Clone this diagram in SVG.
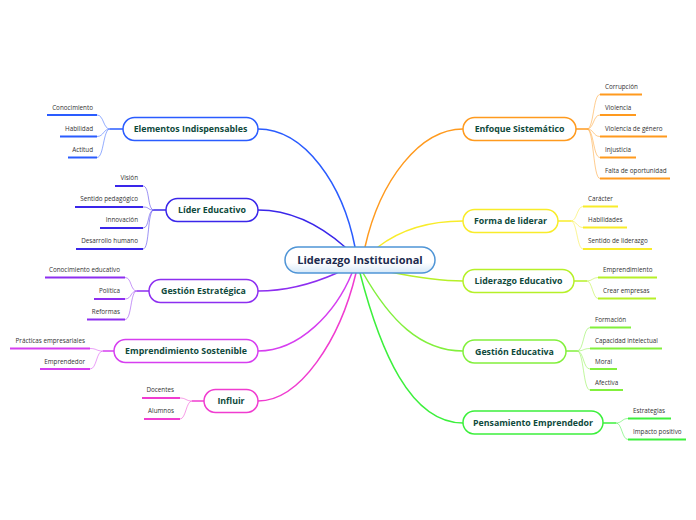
<svg xmlns="http://www.w3.org/2000/svg" width="696" height="520" viewBox="0 0 696 520">
<style>
.bg{fill:#ffffff}
.main{fill:none;stroke-width:1.5;stroke-linecap:round}
.stub{fill:none;stroke-width:1.5}
.leafc{fill:none;stroke-width:1;stroke-opacity:0.5}
.ul{fill:none;stroke-width:2}
.node{fill:#ffffff;stroke-width:1.5}
.nt{font-family:"Open Sans","Noto Sans",sans-serif;font-weight:bold;font-size:8.8px;fill:#0f4a3c;text-anchor:middle}
.lt{font-family:"Open Sans","Noto Sans",sans-serif;font-size:6.3px;fill:#333333}
.le{text-anchor:end}
.ct{font-family:"Open Sans","Noto Sans",sans-serif;font-weight:bold;font-size:11px;fill:#1b2a4e;text-anchor:middle}
.c1{stroke:#2a5cff}.c2{stroke:#3a26ea}.c3{stroke:#8d2ef0}.c4{stroke:#d63ef0}.c5{stroke:#f03cd0}
.c6{stroke:#ff9a1e}.c7{stroke:#f8ec2a}.c8{stroke:#b6f028}.c9{stroke:#82f03c}.c10{stroke:#3cf03c}
</style>
<defs>
<linearGradient id="cg" x1="0" y1="0" x2="0" y2="1">
<stop offset="0" stop-color="#ffffff"/>
<stop offset="0.6" stop-color="#ffffff"/>
<stop offset="1" stop-color="#d6e8f8"/>
</linearGradient>
</defs>
<rect class="bg" x="0" y="0" width="696" height="520"/>
<g id="connectors">
<path class="main c1" d="M355,247 C343,185 305,129 258,129"/>
<path class="main c2" d="M345,247 C320,225 290,210 258,210"/>
<path class="main c3" d="M337,273 C310,285 285,291 258,291"/>
<path class="main c4" d="M352,273 C336,312 300,351 258,351"/>
<path class="main c5" d="M356,273 C340,340 300,401 258,401"/>
<path class="main c6" d="M365,247 C380,180 420,129 463,129"/>
<path class="main c7" d="M378,247 C400,230 430,221 463,221"/>
<path class="main c8" d="M390,272 C420,278 440,281 463,281"/>
<path class="main c9" d="M363,273 C390,320 420,351 463,351"/>
<path class="main c10" d="M360,273 C380,350 410,423 463,423"/>
</g>
<g id="center">
<rect x="285" y="247" width="150" height="26" rx="13" fill="url(#cg)" stroke="#4f95d6" stroke-width="1.5"/>
<text class="ct" x="360" y="264">Liderazgo Institucional</text>
</g>
<g id="elementos">
<path class="stub c1" d="M123,129 H110"/>
<path class="leafc c1" d="M110,129 C103,129 104,115 97,115 M110,129 C103,129 104,136.5 97,136.5 M110,129 C103,129 104,157.5 97,157.5"/>
<path class="ul c1" d="M47,115 H97 M60,136.5 H97 M68,157.5 H97"/>
<rect class="node c1" x="123" y="117.5" width="135" height="23" rx="11.5"/>
<text class="nt" x="190.5" y="132">Elementos Indispensables</text>
<text class="lt le" x="93" y="109.5">Conocimiento</text>
<text class="lt le" x="93" y="131">Habilidad</text>
<text class="lt le" x="93" y="152">Actitud</text>
</g>
<g id="lider">
<path class="stub c2" d="M166,210 H154"/>
<path class="leafc c2" d="M154,210 C147,210 150,186 143,186 M154,210 C147,210 150,207 143,207 M154,210 C147,210 150,228 143,228 M154,210 C147,210 150,249 143,249"/>
<path class="ul c2" d="M115,186 H143 M75,207 H143 M100,228 H143 M76,249 H143"/>
<rect class="node c2" x="166" y="198.5" width="92" height="23" rx="11.5"/>
<text class="nt" x="212" y="213">Líder Educativo</text>
<text class="lt le" x="138" y="180">Visión</text>
<text class="lt le" x="138" y="201">Sentido pedagógico</text>
<text class="lt le" x="138" y="222">Innovación</text>
<text class="lt le" x="138" y="243">Desarrollo humano</text>
</g>
<g id="gestion-estrategica">
<path class="stub c3" d="M149,291 H137"/>
<path class="leafc c3" d="M137,291 C130,291 132,277.5 125,277.5 M137,291 C130,291 132,299 125,299 M137,291 C130,291 132,319.5 125,319.5"/>
<path class="ul c3" d="M45,277.5 H125 M94,299 H125 M87,319.5 H125"/>
<rect class="node c3" x="149" y="279.5" width="109" height="23" rx="11.5"/>
<text class="nt" x="203.5" y="294">Gestión Estratégica</text>
<text class="lt le" x="120" y="272">Conocimiento educativo</text>
<text class="lt le" x="120" y="293">Política</text>
<text class="lt le" x="120" y="314">Reformas</text>
</g>
<g id="emprendimiento-sostenible">
<path class="stub c4" d="M114,351 H103"/>
<path class="leafc c4" d="M103,351 C96,351 97,348.5 90,348.5 M103,351 C96,351 97,369 90,369"/>
<path class="ul c4" d="M10,348.5 H90 M40,369 H90"/>
<rect class="node c4" x="114" y="339.5" width="144" height="23" rx="11.5"/>
<text class="nt" x="186" y="354">Emprendimiento Sostenible</text>
<text class="lt le" x="85" y="343">Prácticas empresariales</text>
<text class="lt le" x="85" y="364">Emprendedor</text>
</g>
<g id="influir">
<path class="stub c5" d="M204,401 H192"/>
<path class="leafc c5" d="M192,401 C186,401 186,398 180,398 M192,401 C186,401 186,419 180,419"/>
<path class="ul c5" d="M142,398 H180 M144,419 H180"/>
<rect class="node c5" x="204" y="389.5" width="54" height="23" rx="11.5"/>
<text class="nt" x="231" y="404">Influir</text>
<text class="lt le" x="174" y="392">Docentes</text>
<text class="lt le" x="174" y="413">Alumnos</text>
</g>
<g id="enfoque">
<path class="stub c6" d="M576,129 H587"/>
<path class="leafc c6" d="M587,129 C594,129 593,94.5 600,94.5 M587,129 C594,129 593,115 600,115 M587,129 C594,129 593,136.5 600,136.5 M587,129 C594,129 593,157.5 600,157.5 M587,129 C594,129 593,178.5 600,178.5"/>
<path class="ul c6" d="M600,94.5 H642 M600,115 H636 M600,136.5 H667 M600,157.5 H636 M600,178.5 H670"/>
<rect class="node c6" x="463" y="117.5" width="113" height="23" rx="11.5"/>
<text class="nt" x="519.5" y="132">Enfoque Sistemático</text>
<text class="lt" x="605" y="89">Corrupción</text>
<text class="lt" x="605" y="109.5">Violencia</text>
<text class="lt" x="605" y="131">Violencia de género</text>
<text class="lt" x="605" y="152">Injusticia</text>
<text class="lt" x="605" y="173">Falta de oportunidad</text>
</g>
<g id="forma">
<path class="stub c7" d="M558,221 H571"/>
<path class="leafc c7" d="M571,221 C577,221 577,206.5 583,206.5 M571,221 C577,221 577,227.5 583,227.5 M571,221 C577,221 577,249 583,249"/>
<path class="ul c7" d="M583,206.5 H618 M583,227.5 H627 M583,249 H652"/>
<rect class="node c7" x="463" y="209.5" width="95" height="23" rx="11.5"/>
<text class="nt" x="510.5" y="224">Forma de liderar</text>
<text class="lt" x="588" y="200.5">Carácter</text>
<text class="lt" x="588" y="222">Habilidades</text>
<text class="lt" x="588" y="243">Sentido de liderazgo</text>
</g>
<g id="liderazgo-educativo">
<path class="stub c8" d="M574,281 H587"/>
<path class="leafc c8" d="M587,281 C592,281 593,277.5 598,277.5 M587,281 C592,281 593,298.5 598,298.5"/>
<path class="ul c8" d="M598,277.5 H657 M598,298.5 H656"/>
<rect class="node c8" x="463" y="269.5" width="111" height="23" rx="11.5"/>
<text class="nt" x="518.5" y="284">Liderazgo Educativo</text>
<text class="lt" x="603" y="272">Emprendimiento</text>
<text class="lt" x="603" y="293">Crear empresas</text>
</g>
<g id="gestion-educativa">
<path class="stub c9" d="M566,351 H577"/>
<path class="leafc c9" d="M577,351 C584,351 583,327.5 590,327.5 M577,351 C584,351 583,348.5 590,348.5 M577,351 C584,351 583,369 590,369 M577,351 C584,351 583,390 590,390"/>
<path class="ul c9" d="M590,327.5 H631 M590,348.5 H662 M590,369 H617 M590,390 H623"/>
<rect class="node c9" x="463" y="340" width="103" height="23" rx="11.5"/>
<text class="nt" x="514.5" y="354.5">Gestión Educativa</text>
<text class="lt" x="595" y="322">Formación</text>
<text class="lt" x="595" y="343">Capacidad intelectual</text>
<text class="lt" x="595" y="364">Moral</text>
<text class="lt" x="595" y="384.5">Afectiva</text>
</g>
<g id="pensamiento">
<path class="stub c10" d="M603,423 H616"/>
<path class="leafc c10" d="M616,423 C622,423 622,418.5 628,418.5 M616,423 C622,423 622,439.5 628,439.5"/>
<path class="ul c10" d="M628,418.5 H671 M628,439.5 H686"/>
<rect class="node c10" x="463" y="411" width="140" height="23" rx="11.5"/>
<text class="nt" x="533" y="425.5">Pensamiento Emprendedor</text>
<text class="lt" x="633" y="413">Estrategias</text>
<text class="lt" x="633" y="434">Impacto positivo</text>
</g>
</svg>
